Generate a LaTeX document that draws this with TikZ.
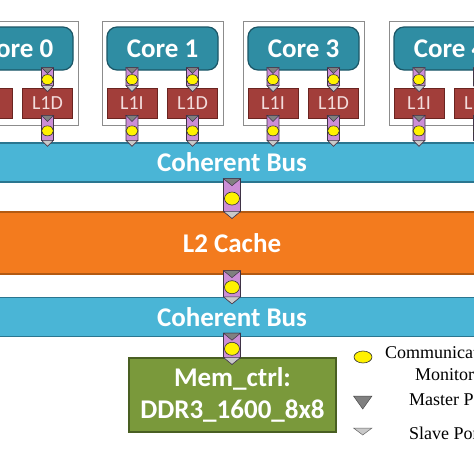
\documentclass[tikz,border=0pt]{standalone}
\usepackage{fontspec}
\newfontfamily\calib{Carlito}
\newfontfamily\tms{Liberation Serif}
\usetikzlibrary{calc}
\definecolor{coreF}{HTML}{2F8DA3}
\definecolor{coreD}{HTML}{1C5666}
\definecolor{lF}{HTML}{A23E3A}
\definecolor{lD}{HTML}{6A2420}
\definecolor{lT}{HTML}{F3DCDC}
\definecolor{busF}{HTML}{4AB5D6}
\definecolor{busD}{HTML}{2A7690}
\definecolor{l2F}{HTML}{F37B1E}
\definecolor{l2D}{HTML}{B35A12}
\definecolor{memF}{HTML}{7A993B}
\definecolor{memD}{HTML}{495F22}
\definecolor{lnkF}{HTML}{CC8ED6}
\definecolor{lnkD}{HTML}{3F3346}
\definecolor{yel}{HTML}{FFF200}
\definecolor{mst}{HTML}{808080}
\definecolor{slv}{HTML}{C9C9C9}
\tikzset{
  bigfont/.style={font=\calib\bfseries\fontsize{27}{32}\selectfont},
  corebox/.style={draw=black!45, line width=0.8pt, fill=white, minimum width=121pt, minimum height=104pt, inner sep=0pt},
  coreunit/.style={bigfont, draw=coreD, fill=coreF, line width=1.2pt, rounded corners=10pt, text=white, minimum width=111pt, minimum height=43pt, inner sep=0pt},
  cachebox/.style={draw=lD, fill=lF, line width=0.8pt, text=lT, font=\calib\fontsize{20}{22}\selectfont, minimum width=50pt, minimum height=30pt, inner sep=0pt},
  busbox/.style={bigfont, draw=busD, fill=busF, line width=1.4pt, text=white, minimum width=520pt, minimum height=39pt, inner sep=0pt},
  l2box/.style={bigfont, draw=l2D, fill=l2F, line width=1.2pt, text=white, minimum width=520pt, minimum height=62pt, inner sep=0pt},
  membox/.style={bigfont, draw=memD, fill=memF, line width=1.2pt, text=white, minimum width=207pt, minimum height=74pt, inner sep=0pt, align=center},
  legtext/.style={font=\tms\fontsize{18}{20}\selectfont, anchor=west, inner sep=0pt},
}
\newcommand\plinkgen[8]{%
  \draw[draw=lnkD, line width=0.6pt, fill=lnkF] let \p1=(#7), \p2=(#8) in
    (\x1-#1pt,\y1+#2pt) -- (\x1+#1pt,\y1+#2pt) -- (\x1+#1pt,\y2-#3pt+#4pt) -- (\x1,\y2-#3pt) -- (\x1-#1pt,\y2-#3pt+#4pt) -- cycle;
  \draw[draw=lnkD, line width=0.5pt, fill=mst] let \p1=(#7) in
    (\x1-#1pt,\y1+#2pt) -- (\x1+#1pt,\y1+#2pt) -- (\x1,\y1+#2pt-#4pt) -- cycle;
  \draw[draw=lnkD, line width=0.5pt, fill=slv] let \p1=(#7), \p2=(#8) in
    (\x1-#1pt,\y2-#3pt+#4pt) -- (\x1+#1pt,\y2-#3pt+#4pt) -- (\x1,\y2-#3pt) -- cycle;
  \draw[draw=black!80, line width=0.6pt, fill=yel] let \p1=(#7), \p2=(#8) in
    (\x1,{(\y1+#2pt+\y2-#3pt)/2}) ellipse [x radius=#5pt, y radius=#6pt];
}
\newcommand\smlink[2]{\plinkgen{6}{3}{4}{6}{6}{5}{#1}{#2}}
\newcommand\bglink[2]{\plinkgen{8.5}{4}{7}{7}{7.5}{6.5}{#1}{#2}}
\begin{document}
\begin{tikzpicture}[x=1pt,y=-1pt]
\useasboundingbox (0,0) rectangle (474,474);
\fill[white] (0,0) rectangle (474,474);
\clip (0,0) rectangle (474,474);
% cores
\foreach \k/\xo/\lab in {0/-38/Core 0, 1/107/Core 1, 3/248/Core 3, 4/394/Core 4}{
  \node[corebox] (b\k) at (\xo+55.5,73) {};
  \node[coreunit] (c\k) at (\xo+55.5,48.5) {\lab};
  \node[cachebox] (i\k) at (\xo+25,103) {L1I};
  \node[cachebox] (d\k) at (\xo+85.5,103) {L1D};
}
\node[busbox] (bus1) at (232,162.5) {Coherent Bus};
\node[l2box] (l2) at (232,243) {L2 Cache};
\node[busbox] (bus2) at (232,317) {Coherent Bus};
\node[membox] (mem) at (232.5,395) {Mem\_ctrl:\\DDR3\_1600\_8x8};
% connectors
\foreach \k in {0,1,3,4}{
  \smlink{c\k.south -| i\k}{i\k.north}
  \smlink{c\k.south -| d\k}{d\k.north}
  \smlink{i\k.south}{i\k.south |- bus1.north}
  \smlink{d\k.south}{d\k.south |- bus1.north}
}
\bglink{bus1.south}{l2.north}
\bglink{l2.south}{bus2.north}
\bglink{bus2.south}{mem.north}
% legend
\draw[draw=black!80, line width=0.6pt, fill=yel] (363,357) ellipse [x radius=9pt, y radius=6pt];
\node[legtext] (lg1) at (385,353) {Communication};
\node[legtext] (lg2) at (415,375) {Monitor};
\draw[draw=black!70, line width=0.5pt, fill=mst] (353.5,396) -- (372,396) -- (362.75,409) -- cycle;
\node[legtext] (lg3) at (409,400) {Master Port};
\draw[draw=black!60, line width=0.5pt, fill=slv] (353.5,428) -- (372,428) -- (362.75,435) -- cycle;
\node[legtext] (lg4) at (409,433) {Slave Port};
\end{tikzpicture}
\end{document}
